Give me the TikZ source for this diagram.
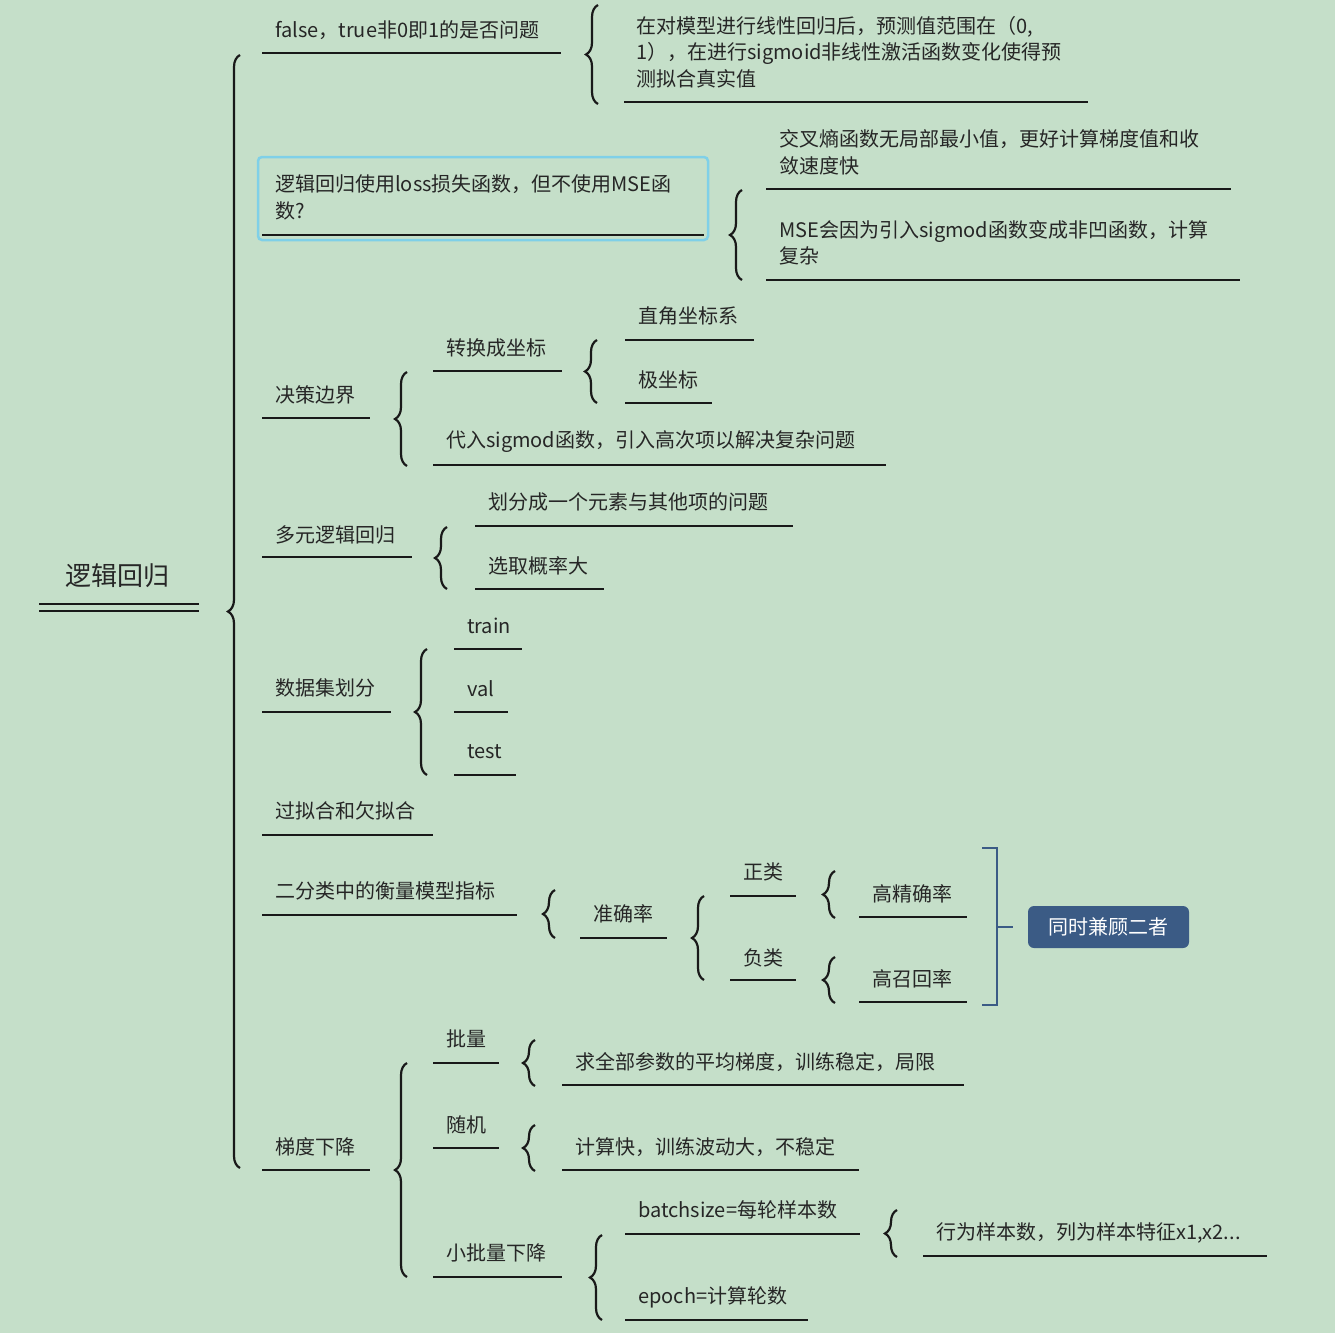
\documentclass[tikz,border=0pt]{standalone}
\usepackage{fontspec}
\setmainfont{Noto Sans CJK SC}
\usetikzlibrary{decorations.pathreplacing}
\definecolor{bg}{HTML}{C5DFC9}
\definecolor{navy}{HTML}{3B5B85}
\definecolor{cyanb}{HTML}{7FD0E8}
\tikzset{
 txt/.style={anchor=west,inner sep=0pt,font=\fontsize{20}{26.5}\selectfont,align=left,text=black!85},
 uline/.style={line width=2.2pt,black!90},
 brc/.style={line width=2.2pt,black!90,decorate,decoration={brace,amplitude=12pt}}
}
\newcommand\tp[7]{\node[txt] (#1) at (#2,#3) {#4}; \draw[uline] (#6,#5) -- (#7,#5);}
\newcommand\brc[3]{\draw[brc] (#1,#3) -- (#1,#2);}
\begin{document}
\begin{tikzpicture}[x=1pt,y=-1pt]
\fill[bg] (0,0) rectangle (1335,1333);
\useasboundingbox (0,0) rectangle (1335,1333);
% root
\node[anchor=west,inner sep=0pt,font=\fontsize{26}{30}\selectfont,text=black!85] (root) at (65,576) {逻辑回归};
\draw[uline] (39,604) -- (199,604);
\draw[uline] (39,611) -- (199,611);
\brc{240}{55}{1168}
% 1
\tp{a}{275}{30}{false，true非0即1的是否问题}{53}{262}{561}
\brc{598}{5}{104}
\node[txt] (a1) at (636,52) {在对模型进行线性回归后，预测值范围在（0,\\1），在进行sigmoid非线性激活函数变化使得预\\测拟合真实值};
\draw[uline] (624,102) -- (1088,102);
% 2
\draw[cyanb,line width=2.5pt,rounded corners=4pt] (258,157) rectangle (708,240);
\node[txt] (b) at (275,197.5) {逻辑回归使用loss损失函数，但不使用MSE函\\数?};
\draw[uline] (262,235) -- (704,235);
\brc{742}{190}{280}
\node[txt] (b1) at (779,152.5) {交叉熵函数无局部最小值，更好计算梯度值和收\\敛速度快};
\draw[uline] (766,189) -- (1231,189);
\node[txt] (b2) at (779,243) {MSE会因为引入sigmod函数变成非凹函数，计算\\复杂};
\draw[uline] (766,280) -- (1240,280);
% 3
\tp{c}{275}{395}{决策边界}{418}{262}{370}
\brc{407}{372}{466}
\tp{c1}{446}{348}{转换成坐标}{371}{433}{562}
\brc{597}{340}{403}
\tp{c11}{638}{316}{直角坐标系}{340}{625}{754}
\tp{c12}{638}{380}{极坐标}{403}{625}{712}
\tp{c2}{446}{442}{代入sigmod函数，引入高次项以解决复杂问题}{465}{433}{886}
% 4
\tp{d}{275}{535}{多元逻辑回归}{557}{262}{412}
\brc{447}{527}{589}
\tp{d1}{488}{502}{划分成一个元素与其他项的问题}{526}{475}{793}
\tp{d2}{488}{566}{选取概率大}{589}{475}{604}
% 5
\tp{e}{275}{688}{数据集划分}{712}{262}{391}
\brc{427}{649}{775}
\tp{e1}{467}{626}{train}{649}{454}{522}
\tp{e2}{467}{689}{val}{712}{454}{508}
\tp{e3}{467}{752}{test}{775}{454}{516}
% 6
\tp{f}{275}{811}{过拟合和欠拟合}{835}{262}{433}
% 7
\tp{g}{275}{891}{二分类中的衡量模型指标}{915}{262}{517}
\brc{555}{890}{938}
\tp{g1}{593}{914}{准确率}{938}{580}{667}
\brc{704}{896}{980}
\tp{g11}{743}{872}{正类}{896}{730}{796}
\brc{835}{871}{918}
\tp{g111}{872}{894}{高精确率}{917}{859}{967}
\tp{g12}{743}{958}{负类}{980}{730}{796}
\brc{835}{957}{1003}
\tp{g121}{872}{979}{高召回率}{1002}{859}{967}
\draw[navy,line width=2.2pt] (982,848) -- (997,848) -- (997,1005) -- (982,1005);
\node[fill=navy,rounded corners=6pt,minimum width=161pt,minimum height=42pt,inner sep=0pt,text=white,font=\fontsize{20}{24}\selectfont] (s) at (1108.5,927) {同时兼顾二者};
\coordinate (bm) at (997,927);
\draw[navy,line width=2.2pt] (bm) -- ++(16,0);
% 8
\tp{h}{275}{1147}{梯度下降}{1170}{262}{370}
\brc{407}{1063}{1277}
\tp{h1}{446}{1039}{批量}{1063}{433}{499}
\brc{535}{1040}{1086}
\tp{h11}{575}{1062}{求全部参数的平均梯度，训练稳定，局限}{1085}{562}{964}
\tp{h2}{446}{1125}{随机}{1148}{433}{499}
\brc{535}{1125}{1171}
\tp{h21}{575}{1147}{计算快，训练波动大，不稳定}{1170}{562}{859}
\tp{h3}{446}{1253}{小批量下降}{1277}{433}{562}
\brc{602}{1235}{1320}
\tp{h31}{638}{1210}{batchsize=每轮样本数}{1234}{625}{860}
\brc{897}{1210}{1257}
\tp{h311}{936}{1233}{行为样本数，列为样本特征x1,x2...}{1256}{923}{1267}
\tp{h32}{638}{1297}{epoch=计算轮数}{1320}{625}{808}
\end{tikzpicture}
\end{document}
